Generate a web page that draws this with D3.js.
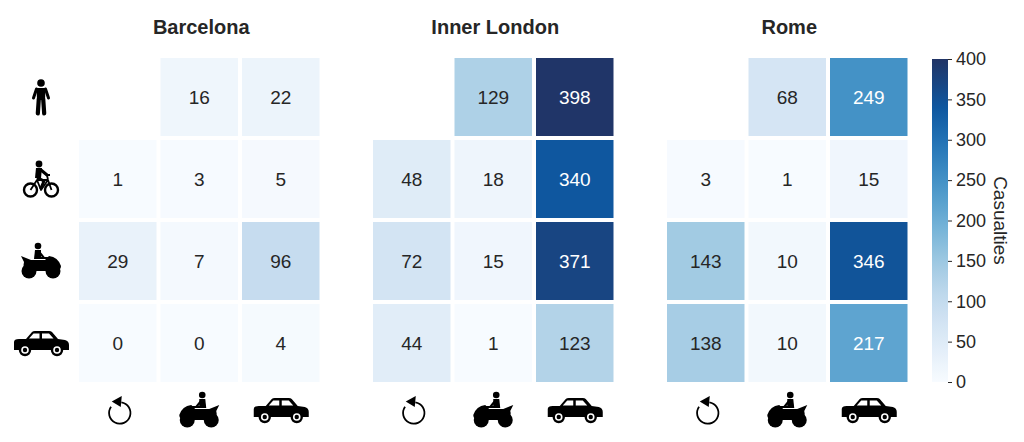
<!DOCTYPE html>
<html>
<head>
<meta charset="utf-8">
<script src="https://cdn.jsdelivr.net/npm/d3@7"></script>
<style>
body{margin:0;background:#fff}
text{font-family:"Liberation Sans",Arial,sans-serif}
</style>
</head>
<body>
<svg id="chart" width="1024" height="442"></svg>
<script>
var svg = d3.select("#chart")

// data
var cities = ["Barcelona","Inner London","Rome"]
var rowKinds = ["pedestrian","cyclist","motorcycle","car"]
var colKinds = ["rotate","motorcycle","car"]
var barcelona = [[null,16,22],[1,3,5],[29,7,96],[0,0,4]]
var london = [[null,129,398],[48,18,340],[72,15,371],[44,1,123]]
var rome = [[null,68,249],[3,1,15],[143,10,346],[138,10,217]]
var cbTicks = [0,50,100,150,200,250,300,350,400]

var values = [barcelona, london, rome]

// Blues, with the top end going to a greyer navy like the original
function blues(t){
    if(t<=0.85) return d3.interpolateBlues(t)
    return d3.interpolateRgb(d3.interpolateBlues(0.85),"#213466")((t-0.85)/0.15)
}
var color = d3.scaleSequential(blues).domain([0,400])

var panelX = [77,371,665]
var step = 81.5
var top0 = 56
var ink = "#262626"

function textColor(v){
    var c = d3.rgb(color(v))
    var f = function(u){u/=255; return u<=0.03928 ? u/12.92 : Math.pow((u+0.055)/1.055,2.4)}
    var lum = 0.2126*f(c.r)+0.7152*f(c.g)+0.0722*f(c.b)
    return lum > 0.408 ? ink : "#fff"
}

// icons, drawn around 0,0
function icon(g, kind, flip){
    var k = g.append("g").attr("transform", flip ? "scale(-1,1)" : null)
    if(kind=="pedestrian"){
        k.append("circle").attr("cx",0).attr("cy",-14).attr("r",3.8)
        k.append("path").attr("d","M-4.5,-9 L4.5,-9 L4,3 L-4,3 Z")
        k.append("path").attr("d","M-4.5,-8 L-7.5,1 M4.5,-8 L7.5,1")
            .attr("stroke","#000").attr("stroke-width",3).attr("stroke-linecap","round")
        k.append("path").attr("d","M-2.2,2 L-3.2,16.5 M2.2,2 L3.2,16.5")
            .attr("stroke","#000").attr("stroke-width",4.2).attr("stroke-linecap","round")
    }
    if(kind=="cyclist"){
        k.selectAll("circle.w").data([-10.5,10.5]).enter().append("circle")
            .attr("cx",function(d){return d}).attr("cy",11).attr("r",6.5)
            .attr("fill","none").attr("stroke","#000").attr("stroke-width",2.4)
        k.append("path").attr("d","M-10.5,11 L-4,1 L7,1 L10.5,11 M-4,1 L0,11 L7,1 M7,1 L6,-4 L9,-4")
            .attr("fill","none").attr("stroke","#000").attr("stroke-width",1.8).attr("stroke-linejoin","round")
        k.append("circle").attr("cx",-2).attr("cy",-15).attr("r",3.4)
        k.append("path").attr("d","M-5,-11 L1,-11 L0,-1 L-6,-1 Z")
        k.append("path").attr("d","M0,-9 L6,-4 M-3,-1 L3,2 L0,9")
            .attr("fill","none").attr("stroke","#000").attr("stroke-width",3).attr("stroke-linecap","round").attr("stroke-linejoin","round")
    }
    if(kind=="motorcycle"){
        k.append("circle").attr("cx",-12).attr("cy",10).attr("r",7.5)
        k.append("circle").attr("cx",12).attr("cy",10).attr("r",7.5)
        k.append("path").attr("d","M-20,-5 L-10,-1 L4,-1 L8,-5 Q17,-4 20,5 Q20,10 14,10 L-12,10 Q-19,7 -17,1 Z")
        k.append("circle").attr("cx",-3).attr("cy",-15).attr("r",3.3)
        k.append("path").attr("d","M-6,-11 L0,-11 L0,-2 L-7,-2 Z")
        k.append("path").attr("d","M-1,-8 L3,-3 L8,-3 M-5,-3 L6,-3")
            .attr("fill","none").attr("stroke","#000").attr("stroke-width",2.2).attr("stroke-linecap","round")
    }
    if(kind=="car"){
        k.append("path").attr("d","M-27,-1 Q-27,-4 -22,-4 L-15,-4 L-9,-11 Q-8,-12 -6,-12 L8,-12 Q10,-12 11,-11 L17,-4 L24,-3 Q28,-2 28,2 L28,7 L-27,7 Z")
        k.append("path").attr("d","M-12,-4.5 L-7.5,-9.5 L-1.5,-9.5 L-1.5,-4.5 Z M1,-4.5 L1,-9.5 L8,-9.5 L12.5,-4.5 Z").attr("fill","#fff")
        k.selectAll("circle.w").data([-16,16]).enter().append("circle")
            .attr("cx",function(d){return d}).attr("cy",7).attr("r",6.2)
        k.selectAll("circle.h").data([-16,16]).enter().append("circle")
            .attr("cx",function(d){return d}).attr("cy",7).attr("r",3.8).attr("fill","#fff")
        k.selectAll("circle.i").data([-16,16]).enter().append("circle")
            .attr("cx",function(d){return d}).attr("cy",7).attr("r",2.2)
    }
    if(kind=="rotate"){
        var arc = d3.arc().innerRadius(9.8).outerRadius(11.6)
            .startAngle(0.15).endAngle(2*Math.PI-0.95)
        k.append("path").attr("d",arc()).attr("transform","translate(2,3)")
        k.append("path").attr("d","M-7,-9.5 L3,-15 L2,-4 Z").attr("transform","translate(1,1)")
    }
}

cities.forEach(function(city, p){
    var x = d3.scaleBand().domain(d3.range(3)).range([panelX[p], panelX[p]+3*step])
    var y = d3.scaleBand().domain(d3.range(4)).range([top0, top0+4*(step+0.5)])
    var g = svg.append("g")

    var cells = []
    values[p].forEach(function(row, r){
        row.forEach(function(v, c){ if(v!==null) cells.push({r:r,c:c,v:v}) })
    })

    g.selectAll("rect").data(cells).enter().append("rect")
        .attr("x",function(d){return x(d.c)+2})
        .attr("y",function(d){return y(d.r)+2})
        .attr("width",x.bandwidth()-4)
        .attr("height",y.bandwidth()-4)
        .attr("fill",function(d){return color(d.v)})

    g.selectAll("text.val").data(cells).enter().append("text")
        .attr("class","val")
        .attr("x",function(d){return x(d.c)+x.bandwidth()/2})
        .attr("y",function(d){return y(d.r)+y.bandwidth()/2})
        .attr("dy","0.36em")
        .attr("text-anchor","middle")
        .attr("font-size",19)
        .attr("fill",function(d){return textColor(d.v)})
        .text(function(d){return d.v})

    g.append("text")
        .attr("x",panelX[p]+1.5*step+2)
        .attr("y",34)
        .attr("text-anchor","middle")
        .attr("font-size",20)
        .attr("font-weight","bold")
        .attr("fill",ink)
        .text(city)

    // row icons only on the first panel
    if(p==0){
        rowKinds.forEach(function(kind, r){
            var gi = g.append("g").attr("transform","translate("+(panelX[p]-36)+","+(y(r)+y.bandwidth()/2)+")")
            icon(gi, kind, false)
        })
    }
    // column icons
    colKinds.forEach(function(kind, c){
        var gi = g.append("g").attr("transform","translate("+(x(c)+x.bandwidth()/2)+","+410+")")
        icon(gi, kind, kind=="motorcycle")
    })
})

// colorbar
var cbX = 932, cbW = 16
var cbY = d3.scaleLinear().domain([0,400]).range([382,59])
var grad = svg.append("defs").append("linearGradient").attr("id","cb")
    .attr("x1",0).attr("y1",1).attr("x2",0).attr("y2",0)
grad.selectAll("stop").data(d3.range(0,1.001,0.025)).enter().append("stop")
    .attr("offset",function(d){return d})
    .attr("stop-color",function(d){return color(d*400)})
svg.append("rect").attr("x",cbX).attr("y",cbY(400)).attr("width",cbW)
    .attr("height",cbY(0)-cbY(400)).attr("fill","url(#cb)")

var cbAxis = svg.append("g").attr("transform","translate("+(cbX+cbW)+",0)")
    .call(d3.axisRight(cbY).tickValues(cbTicks).tickSize(4).tickPadding(4))
cbAxis.select(".domain").remove()
cbAxis.selectAll("line").attr("stroke",ink)
cbAxis.selectAll("text").attr("font-size",18).attr("fill",ink)
    .style("font-family","'Liberation Sans',Arial,sans-serif")

svg.append("text")
    .attr("transform","translate(1001,"+cbY(200)+") rotate(90)")
    .attr("text-anchor","middle")
    .attr("dy","0.35em")
    .attr("font-size",19)
    .attr("fill",ink)
    .text("Casualties")
</script>
</body>
</html>
